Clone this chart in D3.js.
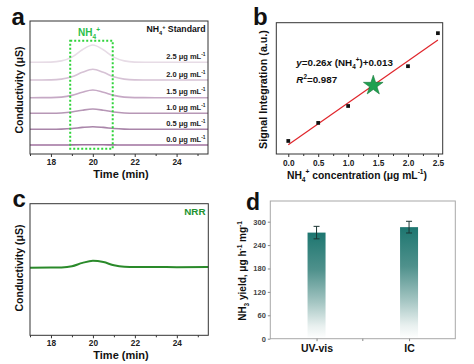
<!DOCTYPE html>
<html><head><meta charset="utf-8">
<script src="https://cdn.jsdelivr.net/npm/d3@7"></script>
<style>body{margin:0;background:#fff}svg{display:block;font-family:Arial,"Liberation Sans",sans-serif;font-weight:bold}</style>
</head><body><svg id="c" width="474" height="364"></svg>
<script>
// ---------- data ----------
const timeTicks = [18, 20, 22, 24];
const timeMinor = [17, 19, 21, 23, 25];
const timeSamples = [17, 18, 18.5, 19, 19.5, 20, 20.5, 21, 21.5, 22, 23, 24, 25.5];
const standardLabels = ['0.0', '0.5', '1.0', '1.5', '2.0', '2.5'];
const std00 = [0.90, 0.90, 0.90, 0.91, 0.92, 0.93, 0.92, 0.91, 0.90, 0.90, 0.90, 0.90, 0.90];
const std05 = [2.47, 2.47, 2.49, 2.55, 2.66, 2.73, 2.66, 2.55, 2.49, 2.47, 2.47, 2.47, 2.47];
const std10 = [4.07, 4.07, 4.10, 4.20, 4.38, 4.50, 4.38, 4.20, 4.10, 4.07, 4.07, 4.07, 4.07];
const std15 = [5.63, 5.64, 5.69, 5.86, 6.18, 6.40, 6.18, 5.86, 5.69, 5.64, 5.63, 5.63, 5.63];
const std20 = [7.40, 7.41, 7.49, 7.72, 8.17, 8.47, 8.17, 7.72, 7.49, 7.41, 7.40, 7.40, 7.40];
const std25 = [9.17, 9.19, 9.31, 9.69, 10.42, 10.90, 10.42, 9.69, 9.31, 9.19, 9.17, 9.17, 9.17];
const standardCurves = [std00, std05, std10, std15, std20, std25];
const nrrCurve = [6.82, 6.84, 6.86, 6.98, 7.32, 7.53, 7.40, 7.08, 6.93, 6.90, 6.90, 6.89, 6.90];
const peakWindow = [18.92, 20.95];

const calibX = [0, 0.5, 1.0, 2.0, 2.5];
const calibY = [0.036, 0.148, 0.253, 0.50, 0.705];
const calibTicks = [0, 0.5, 1.0, 1.5, 2.0, 2.5];
const fitSlope = 0.26, fitIntercept = 0.013;
const fitRange = [0, 2.5];
const sampleX = [1.42], sampleY = [0.38];

const methods = ['UV-vis', 'IC'];
const yields = [272, 286];
const yieldErr = [16, 15];
const yieldTicks = [0, 60, 120, 180, 240, 300];

// ---------- styles ----------
const stdColors = ['#a0719f', '#a985a9', '#b797b6', '#c6a9c5', '#d6c2d5', '#e7dce6'];
const svg = d3.select('#c');

function rich(t, parts, fs) {
  let cur = 0;
  parts.forEach(p => {
    const target = p.sub ? fs * 0.3 : p.sup ? -fs * 0.4 : 0;
    const ts = t.append('tspan').text(p.t).attr('dy', target - cur);
    if (p.sub || p.sup) ts.attr('font-size', fs * 0.65);
    if (p.it) ts.attr('font-style', 'italic');
    cur = target;
  });
}
function frame(g, x0, y0, x1, y1, col) {
  g.append('rect').attr('x', x0).attr('y', y0).attr('width', x1 - x0).attr('height', y1 - y0)
    .attr('fill', 'none').attr('stroke', col).attr('stroke-width', 1);
}
function timeAxis(g, x, yb, labBase, titleBase) {
  const ax = g.append('g').attr('transform', `translate(0,${yb})`)
    .call(d3.axisBottom(x).tickValues(timeTicks).tickSize(3).tickFormat(d3.format('d')));
  ax.select('.domain').remove();
  ax.selectAll('line').attr('stroke', '#333');
  ax.selectAll('text').attr('font-size', 8.3).attr('font-family', 'inherit').attr('fill', '#222').attr('dy', null).attr('y', labBase - yb);
  const mn = g.append('g').attr('transform', `translate(0,${yb})`)
    .call(d3.axisBottom(x).tickValues(timeMinor).tickSize(2).tickFormat(''));
  mn.select('.domain').remove();
  mn.selectAll('line').attr('stroke', '#333');
  g.append('text').attr('x', 121).attr('y', titleBase).attr('text-anchor', 'middle')
    .attr('font-size', 11).attr('fill', '#111').text('Time (min)');
}

// ---------- panel a ----------
{
  const g = svg.append('g');
  const x = d3.scaleLinear().domain([17, 25.5]).range([30, 208]);
  const y = d3.scaleLinear().domain([0, 13.3]).range([154, 21]);
  const line = d3.line().x((d, i) => x(timeSamples[i])).y(d => y(d)).curve(d3.curveMonotoneX);
  standardCurves.forEach((c, i) => {
    g.append('path').attr('d', line(c)).attr('fill', 'none').attr('stroke', stdColors[i]).attr('stroke-width', 1.6);
  });
  g.append('rect').attr('x', x(peakWindow[0])).attr('y', 40.7).attr('width', x(peakWindow[1]) - x(peakWindow[0]))
    .attr('height', 108).attr('fill', 'none').attr('stroke', '#2fd33a').attr('stroke-width', 2).attr('stroke-dasharray', '2,2');
  frame(g, 30, 21, 208, 154, '#333');
  timeAxis(g, x, 154, 165, 177.5);
  standardLabels.forEach((l, i) => {
    const t = g.append('text').attr('x', 205.5).attr('y', y(standardCurves[i][12]) - 3.5).attr('text-anchor', 'end')
      .attr('font-size', 7.5).attr('fill', '#222');
    rich(t, [{ t: l + ' \u03bcg mL' }, { t: '-1', sup: true }], 7.5);
  });
  const st = g.append('text').attr('x', 205.5).attr('y', 32).attr('text-anchor', 'end').attr('font-size', 8.7).attr('fill', '#111');
  rich(st, [{ t: 'NH' }, { t: '4', sub: true }, { t: '+', sup: true }, { t: ' Standard' }], 8.7);
  const nh = g.append('text').attr('x', 89).attr('y', 35.5).attr('text-anchor', 'middle').attr('font-size', 10).attr('fill', '#2cbf4a');
  rich(nh, [{ t: 'NH' }, { t: '4', sub: true }, { t: '+', sup: true }], 10);
  g.append('text').attr('transform', 'translate(23,90) rotate(-90)').attr('text-anchor', 'middle')
    .attr('font-size', 10.5).attr('fill', '#111').text('Conductivity (\u03bcS)');
  g.append('text').attr('x', 11.5).attr('y', 25).attr('font-size', 24).attr('fill', '#111').text('a');
}

// ---------- panel b ----------
{
  const g = svg.append('g');
  const x = d3.scaleLinear().domain([-0.2, 2.58]).range([276.3, 442.7]);
  const y = d3.scaleLinear().domain([-0.045, 0.77]).range([154, 22.7]);
  g.append('line').attr('x1', x(fitRange[0])).attr('y1', y(fitSlope * fitRange[0] + fitIntercept))
    .attr('x2', x(fitRange[1])).attr('y2', y(fitSlope * fitRange[1] + fitIntercept))
    .attr('stroke', '#e0252b').attr('stroke-width', 1.2);
  calibX.forEach((v, i) => {
    g.append('path').attr('d', d3.symbol(d3.symbolSquare, 14)()).attr('transform', `translate(${x(v)},${y(calibY[i])})`).attr('fill', '#111');
  });
  sampleX.forEach((v, i) => {
    g.append('path').attr('d', d3.symbol(d3.symbolStar, 120)()).attr('transform', `translate(${x(v)},${y(sampleY[i])})`)
      .attr('fill', '#20a050').attr('stroke', '#17783a').attr('stroke-width', 0.6);
  });
  frame(g, 276.3, 22.7, 442.7, 154, '#333');
  const ax = g.append('g').attr('transform', 'translate(0,154)')
    .call(d3.axisBottom(x).tickValues(calibTicks).tickSize(3).tickFormat(d3.format('.1f')));
  ax.select('.domain').remove();
  ax.selectAll('line').attr('stroke', '#333');
  ax.selectAll('text').attr('font-size', 8.3).attr('font-family', 'inherit').attr('fill', '#222').attr('dy', null).attr('y', 12);
  const mn = g.append('g').attr('transform', 'translate(0,154)')
    .call(d3.axisBottom(x).tickValues([0.25, 0.75, 1.25, 1.75, 2.25]).tickSize(2).tickFormat(''));
  mn.select('.domain').remove();
  mn.selectAll('line').attr('stroke', '#333');
  const xl = g.append('text').attr('x', 357).attr('y', 178.5).attr('text-anchor', 'middle').attr('font-size', 10.3).attr('fill', '#111');
  rich(xl, [{ t: 'NH' }, { t: '4', sub: true }, { t: '+', sup: true }, { t: ' concentration (\u03bcg mL' }, { t: '-1', sup: true }, { t: ')' }], 10.3);
  g.append('text').attr('transform', 'translate(266.5,89.5) rotate(-90)').attr('text-anchor', 'middle')
    .attr('font-size', 10.7).attr('fill', '#111').text('Signal Integration (a.u.)');
  const eq = g.append('text').attr('x', 296.3).attr('y', 66).attr('font-size', 9.8).attr('fill', '#111');
  rich(eq, [{ t: 'y', it: true }, { t: '=0.26' }, { t: 'x', it: true }, { t: ' (NH' }, { t: '4', sub: true }, { t: '+', sup: true }, { t: ')+0.013' }], 9.8);
  const r2 = g.append('text').attr('x', 296.3).attr('y', 82.5).attr('font-size', 9.8).attr('fill', '#111');
  rich(r2, [{ t: 'R', it: true }, { t: '2', sup: true }, { t: '=0.987' }], 9.8);
  g.append('text').attr('x', 253).attr('y', 25).attr('font-size', 24).attr('fill', '#111').text('b');
}

// ---------- panel c ----------
{
  const g = svg.append('g');
  const x = d3.scaleLinear().domain([17, 25.5]).range([30, 208.3]);
  const y = d3.scaleLinear().domain([0, 13.3]).range([335.3, 203.7]);
  const line = d3.line().x((d, i) => x(timeSamples[i])).y(d => y(d)).curve(d3.curveMonotoneX);
  g.append('path').attr('d', line(nrrCurve)).attr('fill', 'none').attr('stroke', '#2a8a2a').attr('stroke-width', 2);
  frame(g, 30, 203.7, 208.3, 335.3, '#333');
  timeAxis(g, x, 335.3, 346.5, 358.5);
  g.append('text').attr('x', 205.5).attr('y', 215).attr('text-anchor', 'end').attr('font-size', 9.8).attr('fill', '#23922f').text('NRR');
  g.append('text').attr('transform', 'translate(23,268) rotate(-90)').attr('text-anchor', 'middle')
    .attr('font-size', 10.5).attr('fill', '#111').text('Conductivity (\u03bcS)');
  g.append('text').attr('x', 12.5).attr('y', 207).attr('font-size', 24).attr('fill', '#111').text('c');
}

// ---------- panel d ----------
{
  const g = svg.append('g');
  const x = d3.scalePoint().domain(methods).range([270.3, 455.3]).padding(0.5);
  const y = d3.scaleLinear().domain([0, 353]).range([338.7, 201]);
  const defs = svg.append('defs');
  const gr = defs.append('linearGradient').attr('id', 'barGrad').attr('x1', 0).attr('y1', 0).attr('x2', 0).attr('y2', 1);
  [[0, '#1d7670'], [0.35, '#4f918c'], [0.65, '#a2c4c1'], [0.88, '#e8f0ef'], [1, '#ffffff']].forEach(s =>
    gr.append('stop').attr('offset', s[0]).attr('stop-color', s[1]));
  const bw = 18;
  methods.forEach((m, i) => {
    g.append('rect').attr('x', x(m) - bw / 2).attr('y', y(yields[i])).attr('width', bw)
      .attr('height', y(0) - y(yields[i])).attr('fill', 'url(#barGrad)');
    const hi = y(yields[i] + yieldErr[i]), lo = y(yields[i] - yieldErr[i]);
    g.append('line').attr('x1', x(m)).attr('x2', x(m)).attr('y1', hi).attr('y2', lo).attr('stroke', '#1c3533').attr('stroke-width', 1);
    [hi, lo].forEach(v => g.append('line').attr('x1', x(m) - 3).attr('x2', x(m) + 3).attr('y1', v).attr('y2', v)
      .attr('stroke', '#1c3533').attr('stroke-width', 1));
  });
  frame(g, 270.3, 201, 455.3, 338.7, '#a8a8a8');
  const ay = g.append('g').attr('transform', 'translate(270.3,0)')
    .call(d3.axisLeft(y).tickValues(yieldTicks).tickSize(2.5).tickFormat(d3.format('d')));
  ay.select('.domain').remove();
  ay.selectAll('line').attr('stroke', '#888');
  ay.selectAll('text').attr('font-size', 7.5).attr('font-family', 'inherit').attr('fill', '#444').attr('x', -4.5);
  const ax = g.append('g').attr('transform', 'translate(0,338.7)')
    .call(d3.axisBottom(x).tickSize(2.5));
  ax.select('.domain').remove();
  ax.selectAll('line').attr('stroke', '#888');
  ax.selectAll('text').attr('font-size', 10.5).attr('font-family', 'inherit').attr('fill', '#111').attr('dy', null).attr('y', 13.5);
  g.append('line').attr('x1', (x(methods[0]) + x(methods[1])) / 2).attr('x2', (x(methods[0]) + x(methods[1])) / 2)
    .attr('y1', 338.7).attr('y2', 341).attr('stroke', '#888');
  const yl = g.append('text').attr('transform', 'translate(245.5,271) rotate(-90)').attr('text-anchor', 'middle')
    .attr('font-size', 10).attr('fill', '#111');
  rich(yl, [{ t: 'NH' }, { t: '3', sub: true }, { t: ' yield, \u03bcg h' }, { t: '-1', sup: true }, { t: ' mg' }, { t: '-1', sup: true }], 10);
  g.append('text').attr('x', 246).attr('y', 210).attr('font-size', 23).attr('fill', '#111').text('d');
}
</script></body></html>
